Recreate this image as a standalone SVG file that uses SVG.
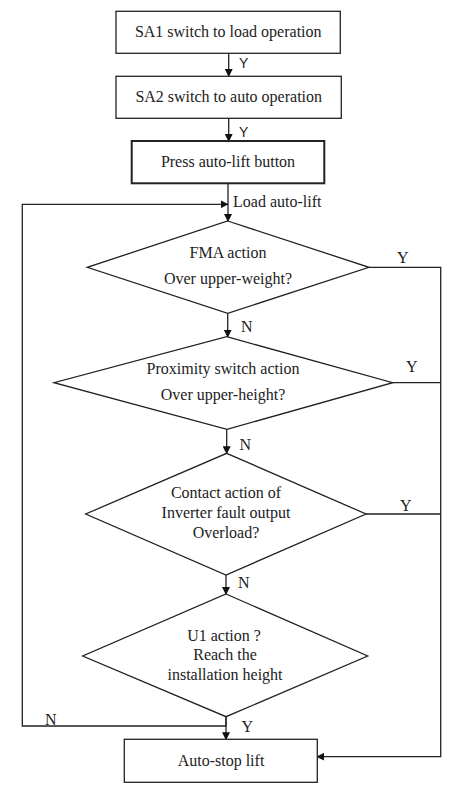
<svg xmlns="http://www.w3.org/2000/svg" width="474" height="803" viewBox="0 0 474 803">
<defs>
<marker id="ah" markerWidth="8" markerHeight="8" refX="7" refY="4" orient="auto" markerUnits="userSpaceOnUse">
<path d="M0,0 L8,4 L0,8 Z" fill="#111"/>
</marker>
<style>
.n{fill:#fff;stroke:#222;stroke-width:1.3}
.t{font-family:"Liberation Serif","Times New Roman",serif;font-size:16px;fill:#222;text-anchor:middle}
.l{font-family:"Liberation Serif","Times New Roman",serif;font-size:16px;fill:#222}
.s{font-family:"Liberation Sans",Arial,sans-serif;font-size:14px;fill:#222}
.c{fill:none;stroke:#222;stroke-width:1.3}
</style>
</defs>
<rect width="474" height="803" fill="#fff"/>
<g id="connectors">
<line class="c" x1="228.7" y1="53.3" x2="228.7" y2="76" marker-end="url(#ah)"/>
<line class="c" x1="228.7" y1="118.3" x2="228.7" y2="141" marker-end="url(#ah)"/>
<line class="c" x1="228" y1="183.3" x2="228" y2="221" marker-end="url(#ah)"/>
<polyline class="c" points="226,716.7 226,726 22.3,726 22.3,204.3 227.5,204.3" marker-end="url(#ah)"/>
<line class="c" x1="227.7" y1="313.3" x2="227.7" y2="336.7" marker-end="url(#ah)"/>
<line class="c" x1="226.7" y1="429.3" x2="226.7" y2="453.3" marker-end="url(#ah)"/>
<line class="c" x1="226" y1="575" x2="226" y2="594" marker-end="url(#ah)"/>
<line class="c" x1="226" y1="716.7" x2="226" y2="739.3" marker-end="url(#ah)"/>
<polyline class="c" points="369,267.3 440.7,267.3 440.7,756.7 317.3,756.7" marker-end="url(#ah)"/>
<line class="c" x1="392.7" y1="382.7" x2="440.7" y2="382.7"/>
<line class="c" x1="366" y1="514" x2="440.7" y2="514"/>
<text class="s" x="239" y="68">Y</text>
<text class="s" x="239" y="137">Y</text>
<text class="l" x="233" y="207.3">Load auto-lift</text>
<text class="l" x="397" y="262.7">Y</text>
<text class="l" x="241" y="331.7">N</text>
<text class="l" x="406" y="371.7">Y</text>
<text class="l" x="239.5" y="450">N</text>
<text class="l" x="400" y="510.7">Y</text>
<text class="l" x="238" y="588.3">N</text>
<text class="l" x="45" y="725">N</text>
<text class="l" x="241.5" y="731.7">Y</text>
</g>
<g id="sa1">
<rect class="n" x="116" y="11.3" width="224.3" height="42"/>
<text class="t" x="228.2" y="36.7">SA1 switch to load operation</text>
</g>
<g id="sa2">
<rect class="n" x="116" y="76.3" width="225.3" height="42"/>
<text class="t" x="228.7" y="101.7">SA2 switch to auto operation</text>
</g>
<g id="press">
<rect class="n" style="stroke-width:2" x="131.7" y="141" width="192.6" height="42.3"/>
<text class="t" x="228" y="166.7">Press auto-lift button</text>
</g>
<g id="fma">
<polygon class="n" points="227.7,221 369,267.3 227.7,313.3 87.3,267.3"/>
<text class="t" x="228" y="257.7">FMA action</text>
<text class="t" x="228" y="284">Over upper-weight?</text>
</g>
<g id="proximity">
<polygon class="n" points="226.7,336.7 392.7,382.7 227,429.3 54,382.7"/>
<text class="t" x="223" y="374.3">Proximity switch action</text>
<text class="t" x="223" y="400">Over upper-height?</text>
</g>
<g id="inverter">
<polygon class="n" points="226.7,453.3 366,514 226,575 85.7,514"/>
<text class="t" x="226" y="498.3">Contact action of</text>
<text class="t" x="226" y="518.3">Inverter fault output</text>
<text class="t" x="226" y="538.3">Overload?</text>
</g>
<g id="u1">
<polygon class="n" points="226,594 367.7,656 226,716.7 82.7,656"/>
<text class="t" x="224" y="640.7">U1 action ?</text>
<text class="t" x="225" y="660">Reach the</text>
<text class="t" x="225" y="680">installation height</text>
</g>
<g id="autostop">
<rect class="n" x="124.3" y="739.3" width="193" height="43"/>
<text class="t" x="221" y="766">Auto-stop lift</text>
</g>
</svg>
